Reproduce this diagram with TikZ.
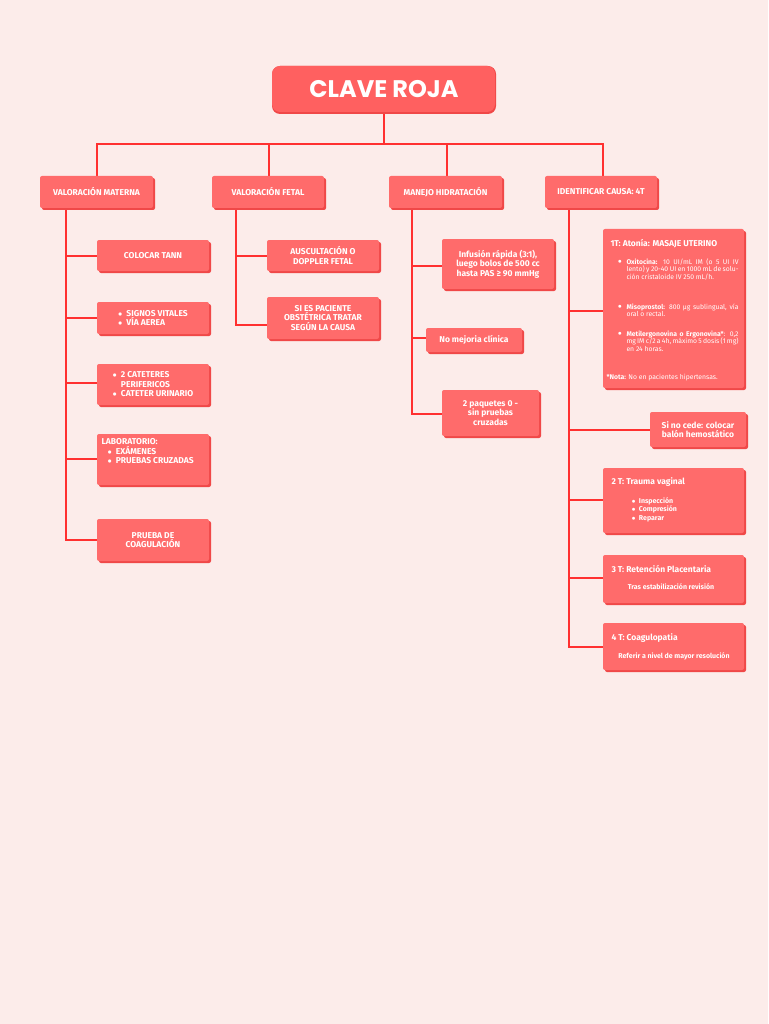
\documentclass[tikz,border=0pt]{standalone}
\usepackage{fontspec}
\setmainfont{Fira Sans}
\newfontfamily\titlefont{Poppins}
\begin{document}
\definecolor{bg}{HTML}{FCECEA}
\definecolor{boxc}{HTML}{FF6B6B}
\definecolor{shad}{HTML}{F04848}
\definecolor{linec}{HTML}{FF3030}
\begin{tikzpicture}[x=1pt,y=-1pt,
  bx/.style={fill=boxc,rounded corners=2pt,draw=none},
  sh/.style={fill=shad,rounded corners=2pt,draw=none},
  tx/.style={text=white,font=\fontsize{8.5}{9.5}\selectfont\bfseries,align=center},
  sm/.style={text=white,font=\fontsize{6.8}{7.6}\selectfont,anchor=north west,text width=112pt,align=justify},
  ln/.style={draw=linec,line width=2.2pt}]
\fill[bg] (0,0) rectangle (768,1024);
\newcommand\bbox[5]{% name x1 y1 x2 y2
  \fill[sh] (#2+2,#3+2) rectangle (#4+2,#5+2);
  \fill[bx] (#2,#3) rectangle (#4,#5);
  \coordinate (#1) at ({(#2+#4)/2},{(#3+#5)/2});}
% lines
\draw[ln] (384,114) -- (384,144);
\draw[ln] (97,176) |- (603,144) -- (603,176);
\draw[ln] (269,144) -- (269,176);
\draw[ln] (447,144) -- (447,176);
\draw[ln] (66,209) -- (66,540) -- (97,540);
\foreach \y in {256,318,383,459} \draw[ln] (66,\y) -- (97,\y);
\draw[ln] (236,209) -- (236,325) -- (267,325); \draw[ln] (236,256) -- (267,256);
\draw[ln] (412,209) -- (412,414) -- (442,414); \draw[ln] (412,266) -- (442,266); \draw[ln] (412,338) -- (426,338);
\draw[ln] (569,209) -- (569,647) -- (603,647);
\draw[ln] (569,311) -- (603,311); \draw[ln] (569,430) -- (650,430);
\draw[ln] (569,500) -- (603,500); \draw[ln] (569,578) -- (603,578);
% title
\fill[shad,rounded corners=8pt] (272,66) rectangle (496,114);
\fill[boxc!90!red,rounded corners=8pt] (272,66) rectangle (495,112);
\node[text=white,font=\titlefont\fontsize{24}{26}\selectfont\bfseries] (title) at (384,89) {CLAVE ROJA};
% level 1
\bbox{vm}{40}{176}{153}{208}\node[tx] (vmt) at (vm) {VALORACIÓN MATERNA};
\bbox{vf}{212}{176}{324}{208}\node[tx] (vft) at (vf) {VALORACIÓN FETAL};
\bbox{mh}{389}{176}{502}{208}\node[tx] (mht) at (mh) {MANEJO HIDRATACIÓN};
\bbox{ic}{545}{176}{657}{208}\node[tx] (ict) at (ic) {IDENTIFICAR CAUSA: 4T};
% materna
\bbox{a1}{97}{240}{209}{271}\node[tx] (a1t) at (a1) {COLOCAR TANN};
\bbox{a2}{97}{302}{209}{334}\node[tx,align=left] (a2t) at (a2) {$\bullet$\ \ SIGNOS VITALES\\$\bullet$\ \ VÍA AEREA};
\bbox{a3}{97}{364}{209}{405}\node[tx,align=left] (a3t) at (a3) {$\bullet$\ \ 2 CATETERES\\\phantom{$\bullet$\ \ }PERIFERICOS\\$\bullet$\ \ CATETER URINARIO};
\bbox{a4}{97}{434}{209}{485}\node[tx,align=left,anchor=north west] (a4t) at (98,435) {LABORATORIO:\\\ \ \ $\bullet$\ \ EXÁMENES\\\ \ \ $\bullet$\ \ PRUEBAS CRUZADAS};
\bbox{a5}{97}{519}{209}{561}\node[tx] (a5t) at (a5) {PRUEBA DE\\COAGULACIÓN};
% fetal
\bbox{b1}{267}{240}{379}{271}\node[tx] (b1t) at (b1) {AUSCULTACIÓN O\\DOPPLER FETAL};
\bbox{b2}{267}{297}{379}{339}\node[tx] (b2t) at (b2) {SI ES PACIENTE\\OBSTÉTRICA TRATAR\\SEGÚN LA CAUSA};
% hidratacion
\bbox{c1}{442}{239}{554}{289}\node[tx] (c1t) at (c1) {Infusión rápida (3:1),\\luego bolos de 500 cc\\hasta PAS ≥ 90 mmHg};
\bbox{c2}{426}{328}{522}{352}\node[tx] (c2t) at (c2) {No mejoria clínica};
\bbox{c3}{442}{390}{539}{436}\node[tx] (c3t) at (c3) {2 paquetes 0 -\\sin pruebas\\cruzadas};
% causa
\bbox{d1}{603}{229}{744}{388}
\node[tx,anchor=north west] (d1h) at (607,236) {1T: Atonía: MASAJE UTERINO};
\node[text=white,font=\fontsize{6.8}{7.6}\selectfont] (bl1) at (620,262) {$\bullet$};
\node[sm] (d1a) at (623,255) {\textbf{Oxitocina:} 10 UI/mL IM (o 5 UI IV lento) y 20-40 UI en 1000 mL de solución cristaloide IV 250 mL/h.};
\node[text=white,font=\fontsize{6.8}{7.6}\selectfont] (bl2) at (620,307) {$\bullet$};
\node[sm] (d1b) at (623,300) {\textbf{Misoprostol:} 800 µg sublingual, vía oral o rectal.};
\node[text=white,font=\fontsize{6.8}{7.6}\selectfont] (bl3) at (620,334) {$\bullet$};
\node[sm] (d1c) at (623,327) {\textbf{Metilergonovina o Ergonovina*}: 0,2 mg IM c/2 a 4h, máximo 5 dosis (1 mg) en 24 horas.};
\node[text=white,font=\fontsize{6.8}{7.6}\selectfont,anchor=north west] (d1n) at (603,371) {\textbf{*Nota:} No en pacientes hipertensas.};
\bbox{d2}{650}{412}{746}{447}\node[tx] (d2t) at (d2) {Si no cede: colocar\\balón hemostático};
\bbox{d3}{603}{468}{744}{533}
\node[tx,anchor=west] (d3h) at (608,482) {2 T: Trauma vaginal};
\node[text=white,font=\fontsize{7}{8.5}\selectfont\bfseries,anchor=north west,align=left] (d3b) at (628,494) {$\bullet$\ \ Inspección\\$\bullet$\ \ Compresión\\$\bullet$\ \ Reparar};
\bbox{d4}{603}{555}{744}{603}
\node[tx,anchor=west] (d4h) at (608,569) {3 T: Retención Placentaria};
\node[text=white,font=\fontsize{7}{8}\selectfont\bfseries] (d4b) at (671,587) {Tras estabilización revisión};
\bbox{d5}{603}{623}{744}{670}
\node[tx,anchor=west] (d5h) at (608,638) {4 T: Coagulopatia};
\node[text=white,font=\fontsize{7}{8}\selectfont\bfseries] (d5b) at (674,656) {Referir a nivel de mayor resolución};
\end{tikzpicture}
\end{document}
